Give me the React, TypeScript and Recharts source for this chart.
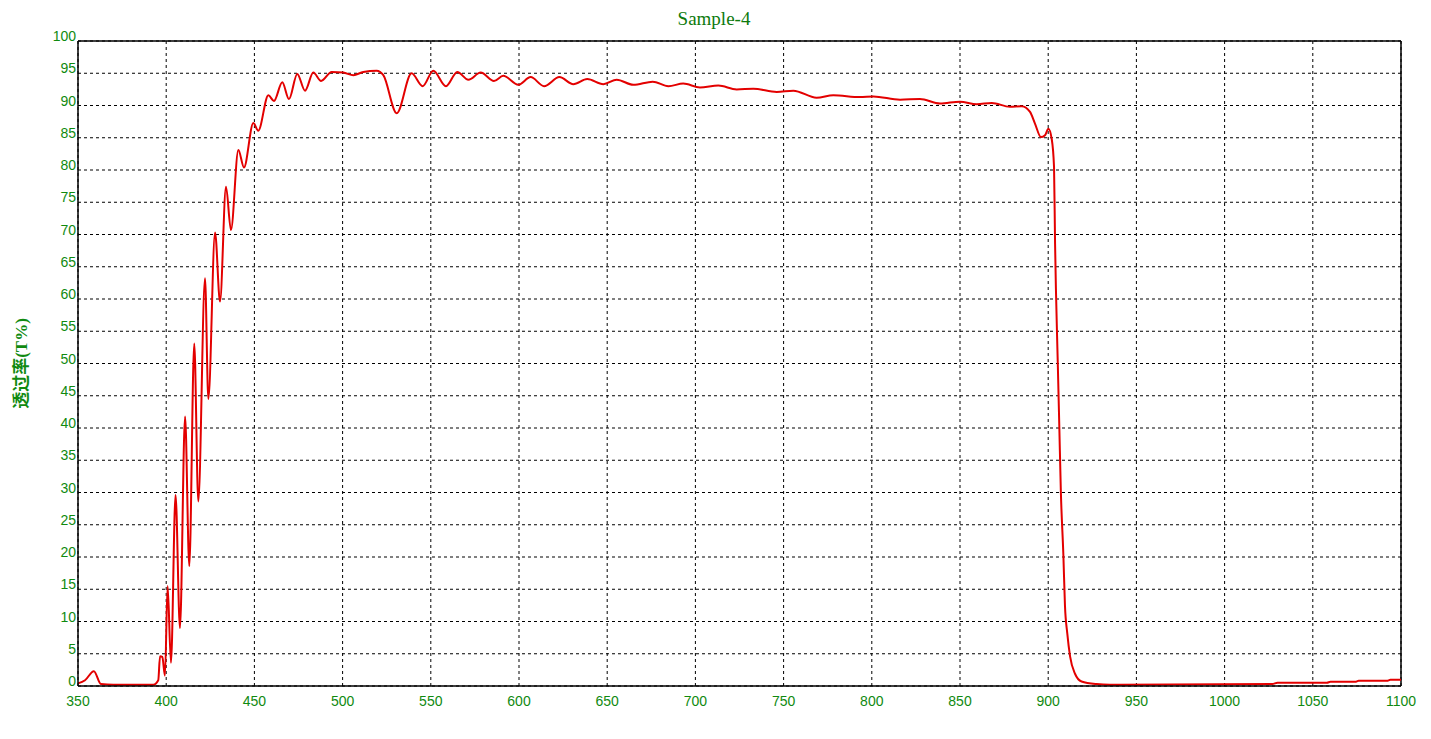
import React from 'react';
import {
  LineChart,
  Line,
  XAxis,
  YAxis,
  CartesianGrid,
  ReferenceLine,
  Label,
} from 'recharts';

// wavelength (nm)
const wavelengths = [
  350, 354, 359, 363, 370, 392.7, 395.5, 396.5, 397.8, 399.3,
  400.8, 402.7, 405.3, 407.8, 410.7, 413.1, 415.9, 418.2, 422, 423.9,
  427.7, 430.5, 433.9, 436.7, 440.9, 444.1, 449.4, 452.2, 457.9, 461.1,
  465.8, 469.6, 474.3, 478.7, 483.4, 487.8, 493.8, 500.4, 506.1, 511.7,
  519.3, 523.1, 530.7, 539.1, 545.4, 551.4, 558.6, 565, 571.3, 578.3,
  585.8, 591.1, 599.6, 606.6, 614.2, 622.9, 630.8, 638.7, 647.8, 655.4,
  664.8, 675.8, 684.7, 693.1, 702.6, 713, 723.4, 732.8, 746.1, 755.5,
  768.7, 778.2, 793.3, 800.9, 816, 827.3, 838.7, 850, 859.5, 868,
  878.3, 885, 889.7, 892.5, 895.9, 898.2, 900.1, 902, 903.3, 903.9,
  904.4, 905.4, 906.3, 907.2, 908.6, 909.5, 910.8, 912.4, 915.2, 918.9,
  927.4, 935, 1027, 1030, 1058, 1060, 1074, 1076, 1092, 1094, 1100,
];

// transmittance T%
const transmittance = [
  0.4, 0.9, 2.3, 0.3, 0.2, 0.2, 0.9, 4.6, 4.5, 1.6,
  15.5, 3.6, 29.6, 9, 41.8, 18.6, 53.1, 28.6, 63.2, 44.5,
  70.3, 59.6, 77.4, 70.7, 83.1, 80.4, 87.3, 86.1, 91.6, 90.7,
  93.6, 91, 94.9, 92.3, 95.1, 93.8, 95.2, 95.1, 94.7, 95.2,
  95.4, 94.7, 88.8, 95, 93, 95.4, 93, 95.2, 94, 95.1,
  93.8, 94.6, 93.2, 94.4, 93, 94.4, 93.3, 94.1, 93.3, 94,
  93.2, 93.7, 93, 93.4, 92.8, 93.1, 92.5, 92.6, 92.1, 92.3,
  91.2, 91.6, 91.3, 91.4, 90.9, 91, 90.3, 90.6, 90.2, 90.4,
  89.8, 89.9, 89, 87.2, 85.1, 85.4, 86.4, 84.8, 80.5, 68.5,
  61.3, 50.4, 40.2, 29.9, 20.3, 12.5, 8.2, 4.6, 1.9, 0.7,
  0.3, 0.2, 0.3, 0.5, 0.5, 0.65, 0.65, 0.8, 0.8, 0.95, 0.95,
];

const xTicks = [350, 400, 450, 500, 550, 600, 650, 700, 750, 800, 850, 900, 950, 1000, 1050, 1100];
const yTicks = [0, 5, 10, 15, 20, 25, 30, 35, 40, 45, 50, 55, 60, 65, 70, 75, 80, 85, 90, 95, 100];

const data = wavelengths.map((nm, i) => ({ nm, t: transmittance[i] }));

const tickColor = '#108a10';
const tickFont = '"Liberation Sans", Arial, sans-serif';

function XTick(props: any) {
  const { x, y, payload } = props;
  return (
    <text x={x} y={y + 20} textAnchor="middle" fill={tickColor} fontSize={14} fontFamily={tickFont}>
      {payload.value}
    </text>
  );
}

function YTick(props: any) {
  const { x, y, payload } = props;
  return (
    <text x={x} y={y} textAnchor="end" fill={tickColor} fontSize={14} fontFamily={tickFont}>
      {payload.value}
    </text>
  );
}

export default function App() {
  return (
    <div style={{ position: 'absolute', left: 0, top: 0, width: 1431, height: 739, background: '#fff' }}>
      <div
        style={{
          position: 'absolute',
          left: 0,
          width: 1428,
          top: 8,
          textAlign: 'center',
          fontFamily: '"Liberation Serif", "Times New Roman", serif',
          fontSize: 19,
          color: '#0d7a0d',
        }}
      >
        Sample-4
      </div>
      <LineChart
        width={1431}
        height={739}
        data={data}
        margin={{ top: 41, right: 30, bottom: 23, left: 18 }}
      >
        <CartesianGrid strokeDasharray="3 3" stroke="#000" />
        <XAxis
          dataKey="nm"
          type="number"
          domain={[350, 1100]}
          ticks={xTicks}
          interval={0}
          height={30}
          tickLine={false}
          tickSize={0}
          tickMargin={0}
          axisLine={{ stroke: '#000', strokeWidth: 1.5 }}
          tick={<XTick />}
        />
        <YAxis
          type="number"
          domain={[0, 100]}
          ticks={yTicks}
          interval={0}
          width={60}
          tickLine={false}
          tickSize={0}
          tickMargin={2}
          axisLine={{ stroke: '#000', strokeWidth: 1.5 }}
          tick={<YTick />}
        >
          <Label
            value="透过率(T%)"
            angle={-90}
            position="insideLeft"
            offset={3}
            style={{
              fill: tickColor,
              fontSize: 17,
              fontWeight: 'bold',
              fontFamily: '"Liberation Serif", "Noto Sans CJK SC", serif',
              textAnchor: 'middle',
            }}
          />
        </YAxis>
        <ReferenceLine y={100} stroke="#000" strokeWidth={1.5} />
        <ReferenceLine x={1100} stroke="#000" strokeWidth={1.5} />
        <Line
          type="monotone"
          dataKey="t"
          stroke="#e30000"
          strokeWidth={2}
          dot={false}
          isAnimationActive={false}
        />
      </LineChart>
    </div>
  );
}
